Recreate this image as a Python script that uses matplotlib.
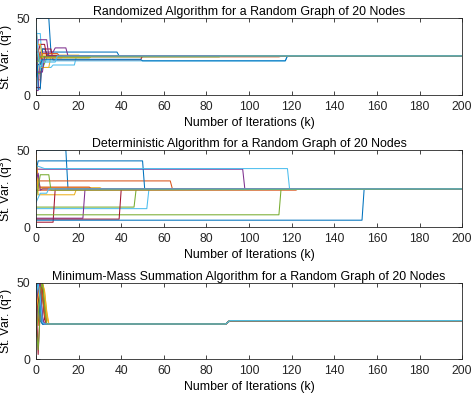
import matplotlib.pyplot as plt
from cycler import cycler

# matlab default line colours
colors = ["#0072BD", "#D95319", "#EDB120", "#7E2F8E", "#77AC30", "#4DBEEE", "#A2142F"]

titles = ["Randomized Algorithm for a Random Graph of 20 Nodes",
          "Deterministic Algorithm for a Random Graph of 20 Nodes",
          "Minimum-Mass Summation Algorithm for a Random Graph of 20 Nodes"]

# randomized algorithm: (iteration, value) breakpoints for every node
rand_k = [[0, 6, 7, 38, 39, 200], [0, 1, 2, 114, 116, 200], [0, 1, 2, 3, 20, 21, 200],
          [0, 1, 2, 8, 9, 14, 15, 200], [0, 1, 2, 5, 6, 200], [0, 2, 3, 7, 8, 18, 19, 200],
          [0, 2, 3, 7, 8, 49, 50, 200], [0, 1, 2, 3, 4, 6, 7, 200], [0, 2, 3, 10, 11, 200],
          [0, 1, 2, 6, 7, 200], [0, 1, 5, 6, 200], [0, 1, 4, 5, 25, 26, 200],
          [0, 1, 2, 117, 118, 200], [0, 1, 2, 4, 5, 200], [0, 1, 2, 3, 49, 50, 117, 118, 200],
          [0, 1, 2, 12, 13, 200], [0, 2, 3, 25, 26, 200], [0, 3, 4, 5, 6, 200],
          [0, 1, 2, 86, 87, 200], [0, 1, 2, 3, 9, 10, 200]]
rand_y = [[50, 50, 28, 28, 25.5, 25.5], [45, 22, 24.9, 24.9, 25.5, 25.5], [48, 10, 10, 26, 26, 25.5, 25.5],
          [3, 3, 28, 28, 30.7, 30.7, 25.5, 25.5], [30, 14, 14, 24, 25.5, 25.5], [40, 40, 18, 18, 19.6, 19.6, 25.5, 25.5],
          [5, 5, 30, 30, 22.8, 22.8, 25.5, 25.5], [38, 4, 4, 30, 30, 25, 25.5, 25.5], [20, 20, 27, 27, 25.5, 25.5],
          [25, 25, 18, 18, 25.5, 25.5], [12, 36, 36, 25.5, 25.5], [35, 25, 25, 24.3, 24.3, 25.5, 25.5],
          [30, 27, 22.3, 22.3, 25.5, 25.5], [28, 28, 33, 33, 25.5, 25.5], [12, 20, 20, 23.3, 23.3, 22.3, 22.3, 25.5, 25.5],
          [30, 30, 24.3, 24.3, 25.5, 25.5], [33, 33, 24.3, 24.3, 25.5, 25.5], [15, 15, 25, 25, 25.5, 25.5],
          [22, 22, 24.9, 24.9, 25.5, 25.5], [48, 26, 17, 21.5, 21.5, 25.5, 25.5]]

# deterministic algorithm
det_k = [[0, 14, 15, 200], [0, 1, 63, 64, 200], [0, 1, 2, 18, 19, 200], [0, 97, 98, 200],
         [0, 46, 47, 200], [0, 52, 53, 200], [0, 8, 9, 200], [0, 1, 50, 51, 200],
         [0, 122, 123, 200], [0, 2, 3, 30, 31, 200], [0, 22, 23, 200], [0, 114, 115, 200],
         [0, 4, 5, 118, 119, 200], [0, 39, 40, 200], [0, 153, 154, 200], [0, 1, 2, 25, 26, 200],
         [0, 1, 2, 200], [0, 1, 2, 3, 200], [0, 2, 3, 6, 7, 200], [0, 2, 3, 5, 6, 200]]
det_y = [[50, 50, 24.8, 24.8], [47, 30, 30, 24.8, 24.8], [46, 21, 21, 21, 24.8, 24.8], [37.6, 37.6, 24.8, 24.8],
         [13, 13, 24.8, 24.8], [12, 12, 24.8, 24.8], [3.2, 3.2, 24.8, 24.8], [36, 43, 43, 24.8, 24.8],
         [24, 24, 24.8, 24.8], [35, 25.6, 25.6, 25.6, 24.8, 24.8], [5.8, 5.8, 24.8, 24.8], [8, 8, 24.8, 24.8],
         [40, 38, 38, 38, 24.8, 24.8], [5.2, 5.2, 24.8, 24.8], [4.5, 4.5, 24.8, 24.8], [40, 26, 26, 26, 24.8, 24.8],
         [45, 25, 24.8, 24.8], [30, 35, 24, 24.8, 24.8], [18, 34, 34, 34, 24, 24.8], [16, 22, 22, 22, 24.8, 24.8]]

# minimum-mass summation algorithm
mm_k = [[0, 1, 2, 3, 4, 89, 91, 200], [0, 1, 2, 3, 4, 5, 89, 91, 200], [0, 1, 2, 3, 4, 5, 6, 89, 91, 200],
        [0, 1, 2, 3, 4, 89, 91, 200], [0, 1, 2, 3, 4, 5, 89, 91, 200], [0, 1, 2, 3, 4, 89, 91, 200],
        [0, 1, 2, 3, 4, 5, 89, 91, 200], [0, 1, 2, 3, 89, 91, 200], [0, 1, 2, 3, 4, 5, 89, 91, 200],
        [0, 1, 2, 3, 4, 5, 6, 89, 91, 200], [0, 1, 2, 3, 4, 89, 91, 200], [0, 1, 2, 3, 4, 5, 89, 91, 200],
        [0, 1, 2, 3, 4, 89, 91, 200], [0, 1, 2, 3, 4, 5, 89, 91, 200], [0, 1, 2, 3, 4, 89, 91, 200],
        [0, 1, 2, 3, 4, 5, 89, 91, 200], [0, 1, 2, 3, 4, 5, 6, 89, 91, 200], [0, 1, 2, 3, 4, 89, 91, 200],
        [0, 1, 2, 3, 4, 5, 89, 91, 200], [0, 1, 2, 3, 4, 89, 91, 200]]
mm_y = [[44, 50, 30, 23, 23, 23, 25.2, 25.2], [35, 22, 45, 50, 30, 23, 23, 25.2, 25.2],
        [30, 40, 50, 50, 45, 30, 23, 23, 25.2, 25.2], [20, 45, 50, 28, 23, 23, 25.2, 25.2],
        [25, 35, 50, 40, 28, 23, 23, 25.2, 25.2], [38, 50, 42, 25, 23, 23, 25.2, 25.2],
        [40, 3, 35, 50, 30, 23, 23, 25.2, 25.2], [48, 50, 25, 23, 23, 25.2, 25.2],
        [28, 42, 50, 50, 35, 23, 23, 25.2, 25.2], [35, 45, 50, 48, 38, 28, 23, 23, 25.2, 25.2],
        [15, 50, 48, 26, 23, 23, 25.2, 25.2], [22, 6, 30, 50, 32, 23, 23, 25.2, 25.2],
        [45, 48, 35, 24, 23, 23, 25.2, 25.2], [30, 38, 50, 45, 26, 23, 23, 25.2, 25.2],
        [42, 50, 36, 23, 23, 23, 25.2, 25.2], [26, 44, 50, 42, 29, 23, 23, 25.2, 25.2],
        [33, 41, 47, 50, 44, 32, 23, 23, 25.2, 25.2], [36, 47, 50, 24, 23, 23, 25.2, 25.2],
        [18, 28, 46, 50, 36, 23, 23, 25.2, 25.2], [40, 50, 40, 24, 23, 23, 25.2, 25.2]]

xticks = list(range(0, 201, 20))
yticks = [0, 50]

plt.rcParams['font.family'] = ['Liberation Sans', 'DejaVu Sans']
plt.rcParams['axes.prop_cycle'] = cycler(color=colors)

fig = plt.figure(figsize=(4.74, 3.95), dpi=100)
positions = [[0.076, 0.759, 0.899, 0.195],
             [0.076, 0.425, 0.899, 0.195],
             [0.076, 0.091, 0.899, 0.193]]
data = [(rand_k, rand_y), (det_k, det_y), (mm_k, mm_y)]

for pos, title, (ks, ys) in zip(positions, titles, data):
	ax = fig.add_axes(pos)
	for k, y in zip(ks, ys):
		ax.plot(k, y, linewidth=0.75)
	ax.set_xlim(0, 200)
	ax.set_ylim(0, 50)
	ax.set_xticks(xticks)
	ax.set_yticks(yticks)
	ax.tick_params(direction='in', top=True, right=True, labelsize=8.8, colors='#262626', length=3, width=0.6, pad=4)
	for s in ax.spines.values():
		s.set_color('#262626')
		s.set_linewidth(0.6)
	ax.set_title(title, fontsize=8.9, pad=2)
	ax.set_xlabel("Number of Iterations (k)", fontsize=8.9, labelpad=3)
	ax.set_ylabel("St. Var. (q$^s$)", fontsize=8.9, labelpad=1)

plt.savefig("out.png", dpi=100)
